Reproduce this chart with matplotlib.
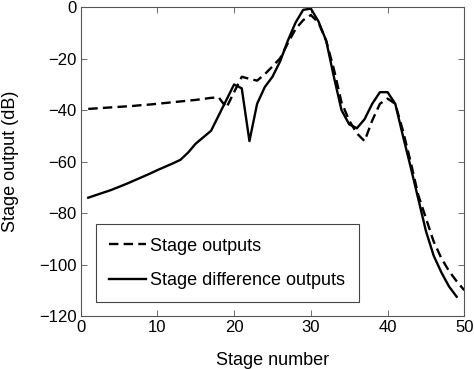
import matplotlib
matplotlib.use("Agg")
import matplotlib.pyplot as plt
import numpy as np

plt.rcParams['font.family'] = ['Liberation Sans', 'DejaVu Sans']

stages_out = list(range(1, 51))
stage_outputs = [-39.5, -39.3, -39.1, -38.9, -38.7, -38.5, -38.3, -38.0, -37.8, -37.5,
                 -37.2, -36.9, -36.6, -36.3, -36.0, -35.6, -35.2, -35.0, -39.0, -33.0,
                 -27.0, -27.8, -28.5, -26.0, -23.0, -19.8, -14.0, -8.5, -5.0, -3.0,
                 -6.0, -13.0, -24.0, -37.0, -44.0, -49.0, -52.0, -44.0, -37.5, -35.5,
                 -37.5, -48.0, -60.0, -73.0, -82.0, -91.0, -97.5, -102.5, -106.5, -110.0]

stages_diff = list(range(1, 50))
stage_diff_outputs = [-74.0, -73.0, -72.0, -71.0, -69.8, -68.6, -67.3, -66.0, -64.7, -63.3,
                      -62.0, -60.7, -59.3, -56.5, -53.0, -50.5, -48.0, -42.0, -36.0, -30.0,
                      -31.5, -52.0, -37.5, -31.0, -27.0, -21.0, -13.0, -6.0, -1.0, -0.5,
                      -5.5, -13.0, -27.0, -40.0, -45.5, -47.0, -43.5, -37.5, -33.0, -33.0,
                      -37.5, -50.0, -62.0, -74.5, -87.0, -96.5, -103.0, -108.5, -112.5]

xticks = [0, 10, 20, 30, 40, 50]
yticks = [0, -20, -40, -60, -80, -100, -120]

fig = plt.figure(figsize=(4.74, 3.69), dpi=100)
ax = fig.add_axes([0.170, 0.1436, 0.8096, 0.8366])

ax.plot(stages_out, stage_outputs, color='black', lw=1.7, linestyle=(0, (4.0, 2.2)),
        label='Stage outputs')
ax.plot(stages_diff, stage_diff_outputs, color='black', lw=1.7, linestyle='-',
        label='Stage difference outputs')

ax.set_xlim(0, 50)
ax.set_ylim(-120, 0)
ax.set_xticks(xticks)
ax.set_yticks(yticks)
ax.tick_params(direction='in', top=True, right=True, labelsize=12, length=4,
               width=0.6, color='#555555', pad=3)
for s in ax.spines.values():
    s.set_linewidth(0.8)
    s.set_color('#555555')

ax.set_xlabel('Stage number', fontsize=13, labelpad=12)
ax.set_ylabel('Stage output (dB)', fontsize=13, labelpad=14)

leg = ax.legend(loc='lower left', bbox_to_anchor=(0.04, 0.044), borderaxespad=0,
                fontsize=13, handlelength=2.0, handletextpad=0.25, labelspacing=0.95,
                borderpad=0.75, fancybox=False, framealpha=1, edgecolor='#444444')
leg.get_frame().set_linewidth(0.8)

fig.savefig('out.png', dpi=100)
